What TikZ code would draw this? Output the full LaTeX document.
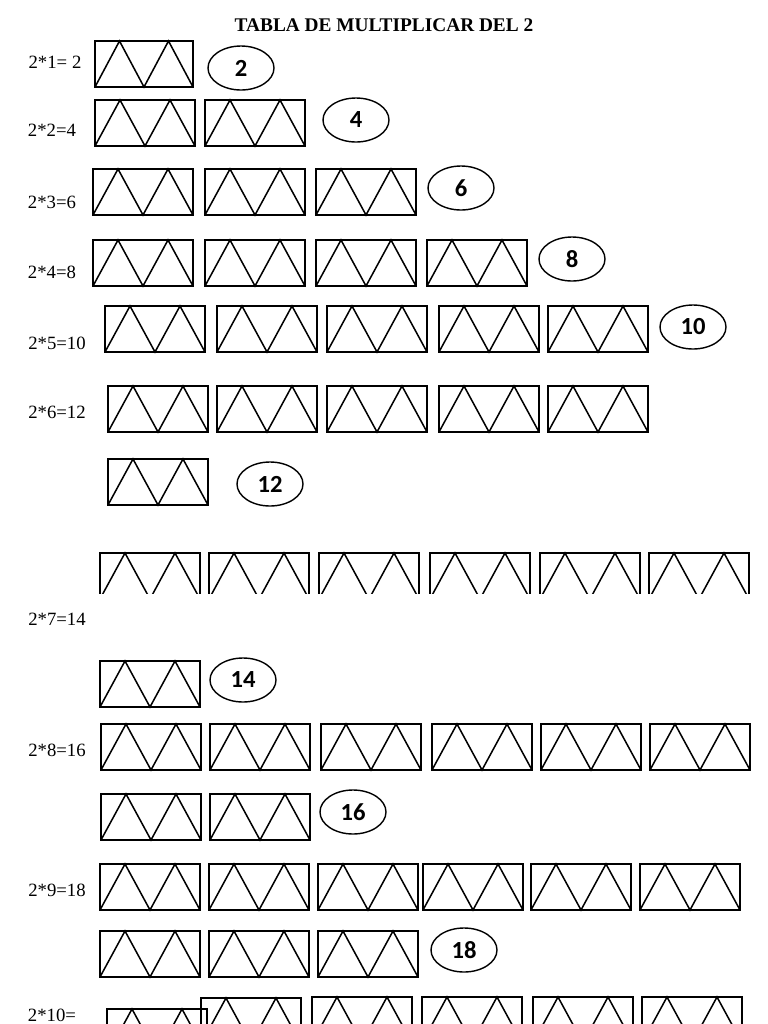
\documentclass[tikz,border=0pt]{standalone}
\usepackage{fontspec}
\setmainfont{Liberation Serif}
\newfontfamily\numfont{Carlito}
\usetikzlibrary{shapes.geometric}
\tikzset{
  result/.style={draw, line width=1.2pt, ellipse, minimum width=66*0.03cm, minimum height=44*0.03cm,
    inner sep=0pt, font=\numfont\bfseries\fontsize{21}{21}\selectfont},
  rowlabel/.style={font=\fontsize{16}{16}\selectfont}
}
% box with two triangles, top left corner at (#2,#3)
\newcommand{\tribox}[3][100]{%
  \draw[line width=1.3pt] (#2,#3) rectangle ++(#1,46);
  \draw[line width=1.3pt] (#2,#3+46) -- ++(#1/4,-46) -- ++(#1/4,46) -- ++(#1/4,-46) -- ++(#1/4,46);
}
\begin{document}
\begin{tikzpicture}[x=0.03cm, y=-0.03cm]
    \useasboundingbox (0,0) rectangle (768,1024);
    \node[font=\bfseries\fontsize{16.5}{16.5}\selectfont] (title) at (384,25) {TABLA DE MULTIPLICAR DEL 2};

    %row 1
    \node[rowlabel] (l1) at (55,62) {2*1= 2};
    \tribox[98]{95}{41}
    \node[result] (r1) at (241,68) {2};

    %row 2
    \node[rowlabel] (l2) at (52,130) {2*2=4};
    \foreach \x in {95,205} {\tribox{\x}{100}}
    \node[result] (r2) at (356,120) {4};

    %row 3
    \node[rowlabel] (l3) at (52,202) {2*3=6};
    \foreach \x in {93,205,316} {\tribox{\x}{169}}
    \node[result] (r3) at (461,188) {6};

    %row 4
    \node[rowlabel] (l4) at (52,272) {2*4=8};
    \foreach \x in {93,205,316,427} {\tribox{\x}{240}}
    \node[result] (r4) at (572,259) {8};

    %row 5
    \node[rowlabel] (l5) at (57,343) {2*5=10};
    \foreach \x in {105,217,327,439,548} {\tribox{\x}{306}}
    \node[result] (r5) at (693,327) {10};

    %row 6
    \node[rowlabel] (l6) at (57,412) {2*6=12};
    \foreach \x in {108,217,327,439,548} {\tribox{\x}{386}}
    \tribox{108}{459}
    \node[result] (r6) at (270,484) {12};

    %row 7
    \begin{scope}
      \clip (0,540) rectangle (768,593);
      \foreach \x in {100,209,319,430,540,649} {\tribox{\x}{553}}
    \end{scope}
    \node[rowlabel] (l7) at (57,619) {2*7=14};
    \tribox{100}{661}
    \node[result] (r7) at (243,680) {14};

    %row 8
    \node[rowlabel] (l8) at (57,750) {2*8=16};
    \foreach \x in {101,210,321,432,541,650} {\tribox{\x}{724}}
    \foreach \x in {101,210} {\tribox{\x}{794}}
    \node[result] (r8) at (353,812) {16};

    %row 9
    \node[rowlabel] (l9) at (57,890) {2*9=18};
    \foreach \x in {100,209,318,423,531,640} {\tribox{\x}{864}}
    \foreach \x in {100,209,318} {\tribox{\x}{931}}
    \node[result] (r9) at (464,950) {18};

    %row 10
    \node[rowlabel] (l10) at (52,1015) {2*10=};
    \begin{scope}
      \clip (0,900) rectangle (768,1024);
      \tribox{107}{1009}
      \tribox{201}{998}
      \foreach \x in {312,422,533,642} {\tribox{\x}{997}}
    \end{scope}
\end{tikzpicture}
\end{document}
